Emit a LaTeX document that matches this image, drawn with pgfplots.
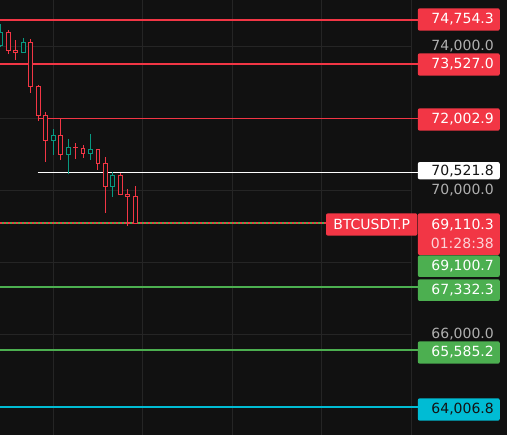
\documentclass[border=0pt]{standalone}
\usepackage{pgfplots}
\pgfplotsset{compat=1.18}
\usepackage{fontspec}
\setmainfont{DejaVu Sans}
\definecolor{bgc}{HTML}{111111}
\definecolor{gridc}{HTML}{252525}
\definecolor{redc}{HTML}{F23645}
\definecolor{upc}{HTML}{089981}
\definecolor{grnc}{HTML}{4CAF50}
\definecolor{cyanc}{HTML}{00BCD4}
\definecolor{tickc}{HTML}{B0B0B0}
\definecolor{pinkc}{HTML}{FCD3D8}
\definecolor{darkt}{HTML}{131313}
% candle: index, open, high, low, close, colour
\newcommand{\candle}[6]{%
  \pgfmathsetmacro{\xl}{#1-0.26}\pgfmathsetmacro{\xr}{#1+0.26}%
  \edef\candlecmd{%
    \noexpand\addplot[#6, line width=1bp, forget plot] coordinates {(#1,#4) (#1,#3)};%
    \noexpand\addplot[#6, line width=1bp, fill=bgc, forget plot] coordinates {(\xl,#2) (\xr,#2) (\xr,#5) (\xl,#5)} -- cycle;%
  }\candlecmd}
\tikzset{lbl/.style={anchor=east, minimum width=82bp, minimum height=22.4bp, inner xsep=6bp, inner ysep=0pt,
  rounded corners=2bp, text=white, font=\fontsize{14bp}{16bp}\selectfont, align=right, text width=70bp}}
\begin{document}
\begin{tikzpicture}
\useasboundingbox (0,0) rectangle (507bp,435bp);
\fill[bgc] (0,0) rectangle (507bp,435bp);
\begin{axis}[at={(0,0)}, anchor=south west, scale only axis,
  width=412bp, height=435bp,
  xmin=-0.134, xmax=55.094, ymin=63222.2, ymax=75305.6,
  clip=false,
  axis line style={draw=none}, tick style={draw=none},
  xtick=\empty,
  ytick={66000,70000,74000},
  scaled y ticks=false,
  yticklabel pos=right,
  yticklabel style={anchor=east, xshift=82bp, yshift=1bp, inner sep=0pt, text=tickc,
    font=\fontsize{14bp}{16bp}\selectfont,
    /pgf/number format/.cd, fixed, fixed zerofill, precision=1, 1000 sep={,}, assume math mode=true},
]
% grid lines
\addplot[gridc, line width=1bp, forget plot] coordinates {(-0.134,74000) (55.094,74000)};
\addplot[gridc, line width=1bp, forget plot] coordinates {(-0.134,72000) (55.094,72000)};
\addplot[gridc, line width=1bp, forget plot] coordinates {(-0.134,70000) (55.094,70000)};
\addplot[gridc, line width=1bp, forget plot] coordinates {(-0.134,68000) (55.094,68000)};
\addplot[gridc, line width=1bp, forget plot] coordinates {(-0.134,66000) (55.094,66000)};
\addplot[gridc, line width=1bp, forget plot] coordinates {(-0.134,64000) (55.094,64000)};
\addplot[gridc, line width=1bp, forget plot] coordinates {(7,63222.2) (7,75305.6)};
\addplot[gridc, line width=1bp, forget plot] coordinates {(19,63222.2) (19,75305.6)};
\addplot[gridc, line width=1bp, forget plot] coordinates {(31,63222.2) (31,75305.6)};
\addplot[gridc, line width=1bp, forget plot] coordinates {(43,63222.2) (43,75305.6)};
\addplot[gridc, line width=1bp, forget plot] coordinates {(55,63222.2) (55,75305.6)};
% level lines
\addplot[redc, line width=2bp] coordinates {(-0.134,74754.3) (55.9,74754.3)};
\addplot[redc, line width=2bp] coordinates {(-0.134,73527.0) (55.9,73527.0)};
\addplot[redc, line width=1bp] coordinates {(4.9,72002.9) (55.9,72002.9)};
\addplot[white, line width=1.3bp] coordinates {(4.9,70521.8) (55.9,70521.8)};
\addplot[grnc, line width=2bp] coordinates {(-0.134,69100.7) (43.6,69100.7)};
\addplot[redc, line width=1.2bp, dash pattern=on 2bp off 2bp] coordinates {(-0.134,69110.3) (43.6,69110.3)};
\addplot[grnc, line width=2bp] coordinates {(-0.134,67332.3) (55.9,67332.3)};
\addplot[grnc, line width=2bp] coordinates {(-0.134,65585.2) (55.9,65585.2)};
\addplot[cyanc, line width=2bp] coordinates {(-0.134,64006.8) (55.9,64006.8)};
% candles
\candle{0}{74036}{74639}{74008}{74408}{upc}
\candle{1}{74408}{74472}{73814}{73908}{redc}
\candle{2}{73908}{74194}{73639}{73853}{redc}
\candle{3}{73842}{74250}{73842}{74131}{upc}
\candle{4}{74131}{74222}{72731}{72897}{redc}
\candle{5}{72908}{72944}{71953}{72097}{redc}
\candle{6}{72097}{72194}{70814}{71408}{redc}
\candle{7}{71408}{71722}{71000}{71547}{upc}
\candle{8}{71547}{71992}{70869}{71019}{redc}
\candle{9}{71019}{71444}{70464}{71214}{upc}
\candle{10}{71214}{71333}{70897}{71203}{redc}
\candle{11}{71186}{71278}{70925}{71047}{redc}
\candle{12}{71047}{71583}{70869}{71158}{upc}
\candle{13}{71158}{71158}{70592}{70769}{redc}
\candle{14}{70769}{70944}{69397}{70131}{redc}
\candle{15}{70131}{70519}{69842}{70436}{upc}
\candle{16}{70436}{70492}{69881}{69908}{redc}
\candle{17}{69908}{70056}{69036}{69853}{redc}
\candle{18}{69853}{70139}{69100}{69110.3}{redc}
\end{axis}
% price labels
\node[lbl, fill=redc] at (500bp,415.5bp) {74,754.3};
\node[lbl, fill=redc] at (500bp,370.5bp) {73,527.0};
\node[lbl, fill=redc] at (500bp,315.5bp) {72,002.9};
\node[lbl, fill=white, text=darkt, minimum height=17.3bp] at (500bp,264.3bp) {70,521.8};
\node[lbl, fill=redc, minimum height=41.7bp, font=\fontsize{14bp}{19.5bp}\selectfont] at (500bp,200.85bp) {69,110.3\\\textcolor{pinkc}{01:28:38}};
\node[fill=redc, rounded corners=2bp, minimum width=91.3bp, minimum height=22.4bp, inner sep=0pt, text=white,
  font=\fontsize{14bp}{16bp}\selectfont] at (371.65bp,210.5bp) {BTCUSDT.P};
\node[lbl, fill=grnc, minimum height=21.5bp] at (500bp,168.75bp) {69,100.7};
\node[lbl, fill=grnc, minimum height=21.7bp] at (500bp,144.85bp) {67,332.3};
\node[lbl, fill=grnc] at (500bp,82.5bp) {65,585.2};
\node[lbl, fill=cyanc, text=darkt] at (500bp,25.5bp) {64,006.8};
\end{tikzpicture}
\end{document}
